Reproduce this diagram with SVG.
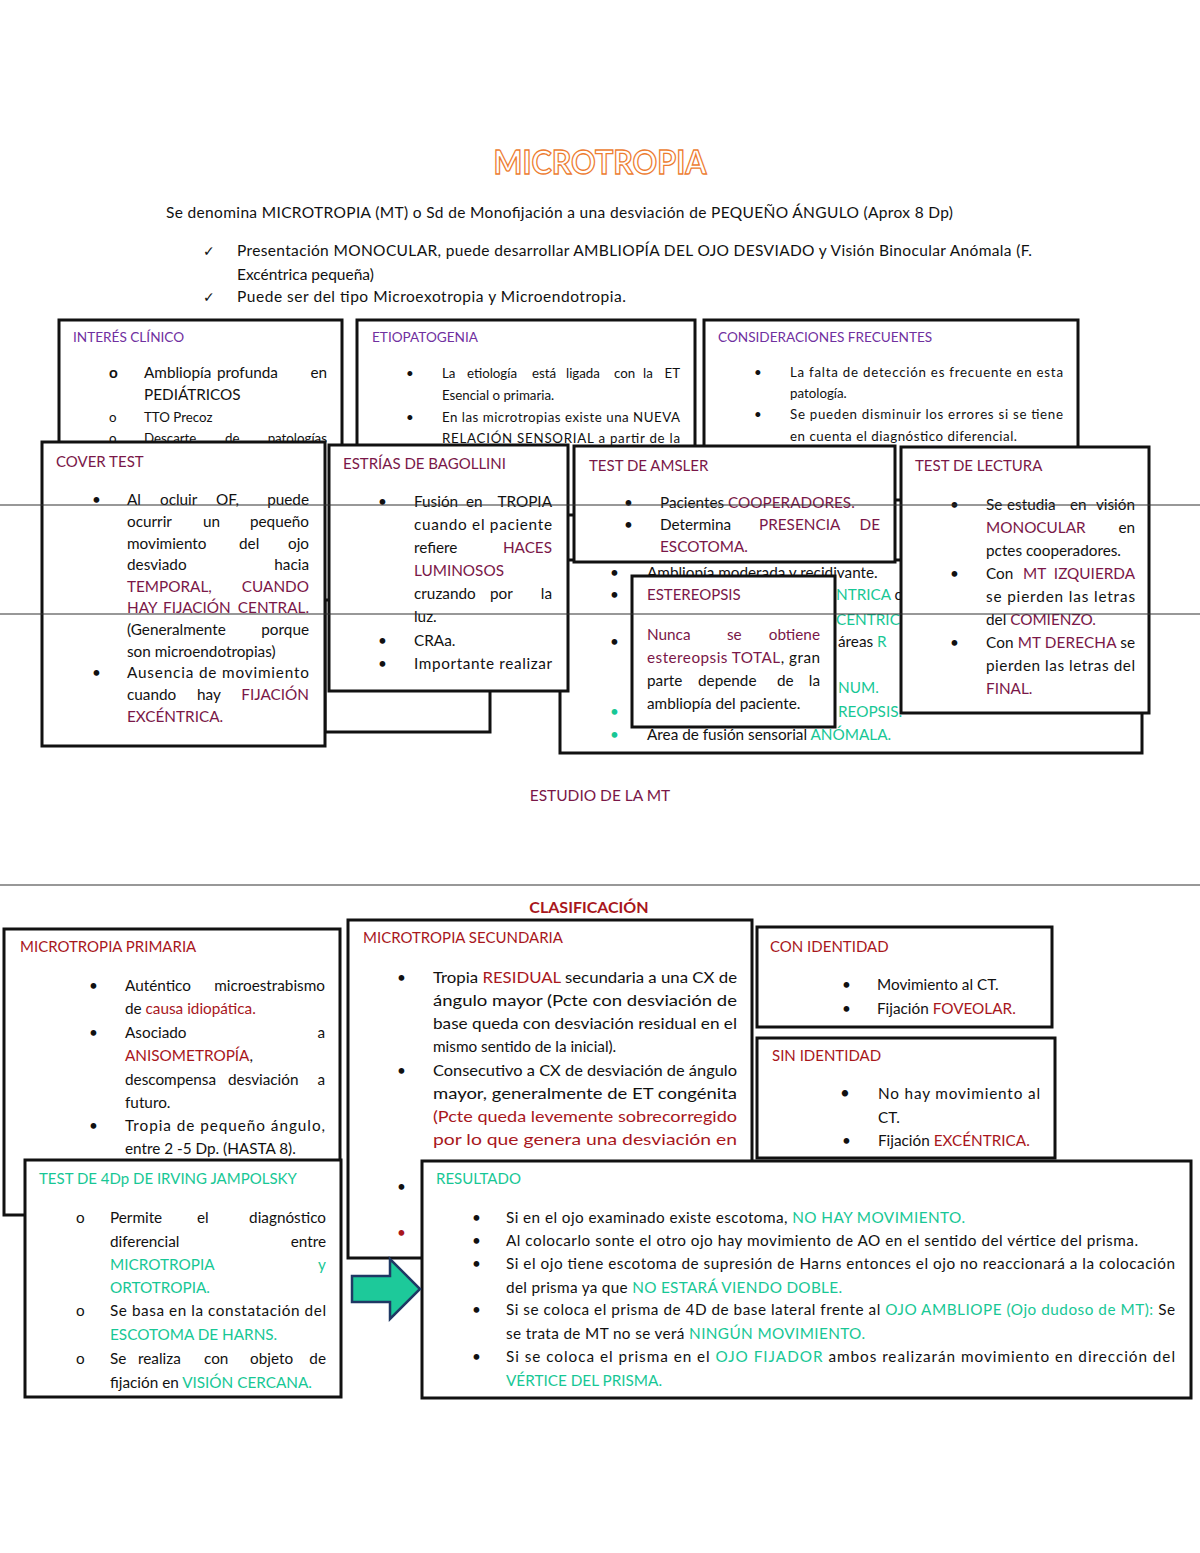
<svg xmlns="http://www.w3.org/2000/svg" width="1200" height="1553" viewBox="0 0 1200 1553">
<style>
text{font-family:Lato,"Open Sans","Liberation Sans",sans-serif;font-size:15.3px;fill:#111}
.s{font-size:13.3px}
.hd{font-size:15px}
.ht{font-size:13.6px}
.pu{fill:#7030A0}.mr{fill:#7A1748}.rd{fill:#A8161C}.tl{fill:#17C795}
.box{fill:#fff;stroke:#111;stroke-width:3}
.e{text-anchor:end}
.rule{stroke:#333;stroke-width:1.2}
.ck{font-family:"DejaVu Sans",sans-serif;font-size:14px}
</style>
<rect width="1200" height="1553" fill="#fff"/>

<g id="header">
<text x="600" y="174" text-anchor="middle" style="font-size:32px;font-weight:bold;fill:#fff;stroke:#ED7D31;stroke-width:1.3" textLength="213" lengthAdjust="spacingAndGlyphs">MICROTROPIA</text>
<text x="166" y="218" style="font-size:15.5px" textLength="787">Se denomina MICROTROPIA (MT) o Sd de Monofijación a una desviación de PEQUEÑO ÁNGULO (Aprox 8 Dp)</text>
<text x="203" y="256" class="ck">✓</text>
<text x="237" y="256" style="font-size:15.5px" textLength="795">Presentación MONOCULAR, puede desarrollar AMBLIOPÍA DEL OJO DESVIADO y Visión Binocular Anómala (F.</text>
<text x="237" y="280" style="font-size:15.5px">Excéntrica pequeña)</text>
<text x="203" y="302" class="ck">✓</text>
<text x="237" y="302" style="font-size:15.5px" textLength="389">Puede ser del tipo Microexotropia y Microendotropia.</text>
</g>

<g id="interes-clinico">
<rect class="box" x="59" y="320" width="283" height="300"/>
<text x="73" y="342" class="pu ht">INTERÉS CLÍNICO</text>
<text x="109" y="378" style="font-weight:bold">o</text>
<text y="378"><tspan x="144">Ambliopía</tspan><tspan x="217">profunda</tspan><tspan x="327" class="e">en</tspan></text>
<text x="144" y="400">PEDIÁTRICOS</text>
<text x="109" y="422" class="s">o</text>
<text x="144" y="422" class="s">TTO Precoz</text>
<text x="109" y="443" class="s">o</text>
<text y="443" class="s"><tspan x="144">Descarte</tspan><tspan x="225">de</tspan><tspan x="327" class="e">patologías</tspan></text>
</g>

<g id="etiopatogenia">
<rect class="box" x="357" y="320" width="338" height="195"/>
<text x="372" y="342" class="pu ht">ETIOPATOGENIA</text>
<text x="406" y="378" class="s">•</text>
<text y="378" class="s"><tspan x="442">La</tspan><tspan x="467">etiología</tspan><tspan x="532">está</tspan><tspan x="566">ligada</tspan><tspan x="614">con</tspan><tspan x="643">la</tspan><tspan x="680" class="e">ET</tspan></text>
<text x="442" y="400" class="s">Esencial o primaria.</text>
<text x="406" y="422" class="s">•</text>
<text x="442" y="422" class="s" textLength="238">En las microtropias existe una NUEVA</text>
<text x="442" y="443" class="s" textLength="238">RELACIÓN SENSORIAL a partir de la</text>
</g>

<g id="consideraciones">
<rect class="box" x="704" y="320" width="374" height="180"/>
<text x="718" y="342" class="pu ht">CONSIDERACIONES FRECUENTES</text>
<text x="754" y="377" class="s">•</text>
<text x="790" y="377" class="s" textLength="273">La falta de detección es frecuente en esta</text>
<text x="790" y="398" class="s">patología.</text>
<text x="754" y="419" class="s">•</text>
<text x="790" y="419" class="s" textLength="273">Se pueden disminuir los errores si se tiene</text>
<text x="790" y="441" class="s" textLength="227">en cuenta el diagnóstico diferencial.</text>
</g>

<g id="hidden-box-a">
<rect class="box" x="325" y="600" width="165" height="132"/>
</g>

<g id="hidden-box-b">
<rect class="box" x="560" y="560" width="582" height="193"/>
<text x="610" y="578">•</text>
<text x="647" y="578">Ambliopía moderada y recidivante.</text>
<text x="610" y="600">•</text>
<text x="836" y="600"><tspan class="tl">NTRICA</tspan> c</text>
<text x="836" y="625" class="tl">CENTRIC</text>
<text x="610" y="647">•</text>
<text x="838" y="647">áreas <tspan class="tl">R</tspan></text>
<text x="838" y="693" class="tl">NUM.</text>
<text x="610" y="717" class="tl">•</text>
<text x="838" y="717" class="tl">REOPSIS.</text>
<text x="610" y="740" class="tl">•</text>
<text x="647" y="740">Área de fusión sensorial <tspan class="tl">ANÓMALA.</tspan></text>
</g>

<g id="cover-test">
<rect class="box" x="42" y="442" width="283" height="304"/>
<text x="56" y="467" class="mr hd">COVER TEST</text>
<text x="92" y="505">•</text>
<text y="505"><tspan x="127">Al</tspan><tspan x="160">ocluir</tspan><tspan x="216">OF,</tspan><tspan x="309" class="e">puede</tspan></text>
<text y="527"><tspan x="127">ocurrir</tspan><tspan x="203">un</tspan><tspan x="309" class="e">pequeño</tspan></text>
<text y="549"><tspan x="127">movimiento</tspan><tspan x="239">del</tspan><tspan x="309" class="e">ojo</tspan></text>
<text y="570"><tspan x="127">desviado</tspan><tspan x="309" class="e">hacia</tspan></text>
<text y="592" class="mr"><tspan x="127">TEMPORAL,</tspan><tspan x="309" class="e">CUANDO</tspan></text>
<text y="613" class="mr"><tspan x="127">HAY</tspan><tspan x="163">FIJACIÓN</tspan><tspan x="309" class="e">CENTRAL.</tspan></text>
<text y="635"><tspan x="127">(Generalmente</tspan><tspan x="309" class="e">porque</tspan></text>
<text x="127" y="657">son microendotropias)</text>
<text x="92" y="678">•</text>
<text x="127" y="678" textLength="182">Ausencia de movimiento</text>
<text y="700"><tspan x="127">cuando</tspan><tspan x="197">hay</tspan><tspan x="309" class="e mr">FIJACIÓN</tspan></text>
<text x="127" y="722" class="mr">EXCÉNTRICA.</text>
</g>

<g id="bagollini">
<rect class="box" x="329" y="445" width="239" height="246"/>
<text x="343" y="469" class="mr hd">ESTRÍAS DE BAGOLLINI</text>
<text x="378" y="507">•</text>
<text y="507"><tspan x="414">Fusión</tspan><tspan x="466">en</tspan><tspan x="552" class="e">TROPIA</tspan></text>
<text x="414" y="530" textLength="138">cuando el paciente</text>
<text y="553"><tspan x="414">refiere</tspan><tspan x="552" class="e mr">HACES</tspan></text>
<text x="414" y="576" class="mr">LUMINOSOS</text>
<text y="599"><tspan x="414">cruzando</tspan><tspan x="490">por</tspan><tspan x="552" class="e">la</tspan></text>
<text x="414" y="622">luz.</text>
<text x="378" y="646">•</text>
<text x="414" y="646">CRAa.</text>
<text x="378" y="669">•</text>
<text x="414" y="669" textLength="138">Importante realizar</text>
</g>

<g id="amsler">
<rect class="box" x="574" y="446" width="321" height="116"/>
<text x="589" y="471" class="mr hd">TEST DE AMSLER</text>
<text x="624" y="508">•</text>
<text x="660" y="508">Pacientes <tspan class="mr">COOPERADORES.</tspan></text>
<text x="624" y="530">•</text>
<text y="530"><tspan x="660">Determina</tspan><tspan x="759" class="mr">PRESENCIA</tspan><tspan x="880" class="e mr">DE</tspan></text>
<text x="660" y="552" class="mr">ESCOTOMA.</text>
</g>

<g id="estereopsis">
<rect class="box" x="632" y="576" width="203" height="151"/>
<text x="647" y="600" class="mr hd">ESTEREOPSIS</text>
<text y="640" class="mr"><tspan x="647">Nunca</tspan><tspan x="727">se</tspan><tspan x="820" class="e">obtiene</tspan></text>
<text x="647" y="663" textLength="173"><tspan class="mr">estereopsis TOTAL</tspan>, gran</text>
<text y="686"><tspan x="647">parte</tspan><tspan x="698">depende</tspan><tspan x="777">de</tspan><tspan x="820" class="e">la</tspan></text>
<text x="647" y="709">ambliopía del paciente.</text>
</g>

<g id="lectura">
<rect class="box" x="901" y="447" width="248" height="266"/>
<text x="915" y="471" class="mr hd">TEST DE LECTURA</text>
<text x="950" y="510">•</text>
<text y="510"><tspan x="986">Se</tspan><tspan x="1007">estudia</tspan><tspan x="1070">en</tspan><tspan x="1135" class="e">visión</tspan></text>
<text y="533"><tspan x="986" class="mr">MONOCULAR</tspan><tspan x="1135" class="e">en</tspan></text>
<text x="986" y="556">pctes cooperadores.</text>
<text x="950" y="579">•</text>
<text y="579"><tspan x="986">Con</tspan><tspan x="1023" class="mr">MT</tspan><tspan x="1135" class="e mr">IZQUIERDA</tspan></text>
<text x="986" y="602" textLength="149">se pierden las letras</text>
<text x="986" y="625">del <tspan class="mr">COMIENZO.</tspan></text>
<text x="950" y="648">•</text>
<text x="986" y="648" textLength="149">Con <tspan class="mr">MT DERECHA</tspan> se</text>
<text x="986" y="671" textLength="149">pierden las letras del</text>
<text x="986" y="694" class="mr">FINAL.</text>
</g>

<g id="rules">
<line class="rule" x1="0" y1="505" x2="1200" y2="505"/>
<line class="rule" x1="0" y1="614" x2="1200" y2="614"/>
<line class="rule" x1="0" y1="885" x2="1200" y2="885"/>
</g>

<g id="estudio">
<text x="600" y="801" text-anchor="middle" class="mr" style="font-size:15.5px">ESTUDIO DE LA MT</text>
</g>

<g id="clasificacion">
<text x="589" y="913" text-anchor="middle" class="rd" style="font-size:16px;font-weight:bold">CLASIFICACIÓN</text>
</g>

<g id="primaria">
<rect class="box" x="4" y="929" width="336" height="286"/>
<text x="20" y="952" class="rd hd">MICROTROPIA PRIMARIA</text>
<text x="89" y="991">•</text>
<text y="991"><tspan x="125">Auténtico</tspan><tspan x="325" class="e">microestrabismo</tspan></text>
<text x="125" y="1014">de <tspan class="rd">causa idiopática.</tspan></text>
<text x="89" y="1038">•</text>
<text y="1038"><tspan x="125">Asociado</tspan><tspan x="325" class="e">a</tspan></text>
<text x="125" y="1061"><tspan class="rd">ANISOMETROPÍA</tspan>,</text>
<text y="1085"><tspan x="125">descompensa</tspan><tspan x="228">desviación</tspan><tspan x="325" class="e">a</tspan></text>
<text x="125" y="1108">futuro.</text>
<text x="89" y="1131">•</text>
<text x="125" y="1131" textLength="200">Tropia de pequeño ángulo,</text>
<text x="125" y="1154">entre 2 -5 Dp. (HASTA 8).</text>
</g>

<g id="secundaria">
<rect class="box" x="348" y="920" width="404" height="338"/>
<text x="363" y="943" class="rd hd">MICROTROPIA SECUNDARIA</text>
<text x="397" y="983">•</text>
<text x="433" y="983" textLength="304" lengthAdjust="spacingAndGlyphs">Tropia <tspan class="rd">RESIDUAL</tspan> secundaria a una CX de</text>
<text x="433" y="1006" textLength="304" lengthAdjust="spacingAndGlyphs">ángulo mayor (Pcte con desviación de</text>
<text x="433" y="1029" textLength="304" lengthAdjust="spacingAndGlyphs">base queda con desviación residual en el</text>
<text x="433" y="1052">mismo sentido de la inicial).</text>
<text x="397" y="1076">•</text>
<text x="433" y="1076" textLength="304" lengthAdjust="spacingAndGlyphs">Consecutivo a CX de desviación de ángulo</text>
<text x="433" y="1099" textLength="304" lengthAdjust="spacingAndGlyphs">mayor, generalmente de ET congénita</text>
<text x="433" y="1122" textLength="304" lengthAdjust="spacingAndGlyphs" class="rd">(Pcte queda levemente sobrecorregido</text>
<text x="433" y="1145" textLength="304" lengthAdjust="spacingAndGlyphs" class="rd">por lo que genera una desviación en</text>
<text x="397" y="1192">•</text>
<text x="397" y="1238" class="rd">•</text>
</g>

<g id="con-identidad">
<rect class="box" x="757" y="927" width="295" height="100"/>
<text x="770" y="952" class="rd hd">CON IDENTIDAD</text>
<text x="842" y="990">•</text>
<text x="877" y="990">Movimiento al CT.</text>
<text x="842" y="1014">•</text>
<text x="877" y="1014">Fijación <tspan class="rd">FOVEOLAR.</tspan></text>
</g>

<g id="sin-identidad">
<rect class="box" x="757" y="1038" width="298" height="120"/>
<text x="772" y="1061" class="rd hd">SIN IDENTIDAD</text>
<text x="840" y="1099" style="font-size:17px">•</text>
<text x="878" y="1099" textLength="162">No hay movimiento al</text>
<text x="878" y="1123">CT.</text>
<text x="842" y="1146">•</text>
<text x="878" y="1146">Fijación <tspan class="rd">EXCÉNTRICA.</tspan></text>
</g>

<g id="test-4dp">
<rect class="box" x="25" y="1160" width="316" height="237"/>
<text x="39" y="1184" class="tl hd">TEST DE 4Dp DE IRVING JAMPOLSKY</text>
<text x="76" y="1223">o</text>
<text y="1223"><tspan x="110">Permite</tspan><tspan x="197">el</tspan><tspan x="326" class="e">diagnóstico</tspan></text>
<text y="1247"><tspan x="110">diferencial</tspan><tspan x="326" class="e">entre</tspan></text>
<text y="1270" class="tl"><tspan x="110">MICROTROPIA</tspan><tspan x="326" class="e">y</tspan></text>
<text x="110" y="1293" class="tl">ORTOTROPIA.</text>
<text x="76" y="1316">o</text>
<text x="110" y="1316" textLength="216">Se basa en la constatación del</text>
<text x="110" y="1340" class="tl">ESCOTOMA DE HARNS.</text>
<text x="76" y="1364">o</text>
<text y="1364"><tspan x="110">Se</tspan><tspan x="138">realiza</tspan><tspan x="204">con</tspan><tspan x="250">objeto</tspan><tspan x="326" class="e">de</tspan></text>
<text x="110" y="1388">fijación en <tspan class="tl">VISIÓN CERCANA.</tspan></text>
</g>

<g id="resultado">
<rect class="box" x="422" y="1161" width="769" height="237"/>
<text x="436" y="1184" class="tl hd">RESULTADO</text>
<text x="472" y="1223">•</text>
<text x="506" y="1223" textLength="459">Si en el ojo examinado existe escotoma, <tspan class="tl">NO HAY MOVIMIENTO.</tspan></text>
<text x="472" y="1246">•</text>
<text x="506" y="1246" textLength="632">Al colocarlo sonte el otro ojo hay movimiento de AO en el sentido del vértice del prisma.</text>
<text x="472" y="1269">•</text>
<text x="506" y="1269" textLength="669">Si el ojo tiene escotoma de supresión de Harns entonces el ojo no reaccionará a la colocación</text>
<text x="506" y="1293" textLength="336">del prisma ya que <tspan class="tl">NO ESTARÁ VIENDO DOBLE.</tspan></text>
<text x="472" y="1315">•</text>
<text x="506" y="1315" textLength="669">Si se coloca el prisma de 4D de base lateral frente al <tspan class="tl">OJO AMBLIOPE (Ojo dudoso de MT):</tspan> Se</text>
<text x="506" y="1339" textLength="359">se trata de MT no se verá <tspan class="tl">NINGÚN MOVIMIENTO.</tspan></text>
<text x="472" y="1362">•</text>
<text x="506" y="1362" textLength="669">Si se coloca el prisma en el <tspan class="tl">OJO FIJADOR</tspan> ambos realizarán movimiento en dirección del</text>
<text x="506" y="1386" class="tl">VÉRTICE DEL PRISMA.</text>
</g>

<g id="connectors">
<polygon points="352,1276 390,1276 390,1259 420,1289 390,1319 390,1302 352,1302" fill="#1DC99A" stroke="#1F3864" stroke-width="2.5" stroke-linejoin="miter"/>
</g>
</svg>
